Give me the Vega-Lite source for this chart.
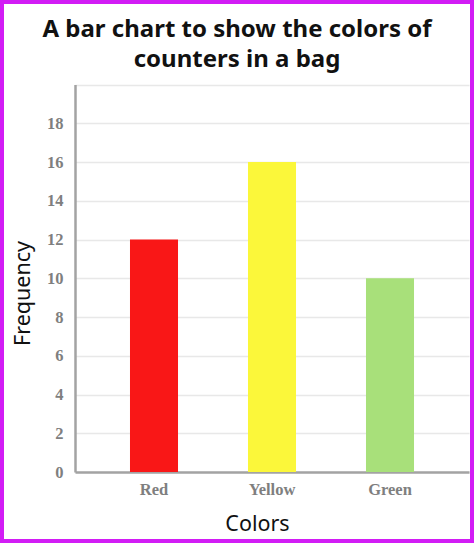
{
  "$schema": "https://vega.github.io/schema/vega-lite/v6.json",
  "width": 474,
  "height": 543,
  "padding": 0,
  "autosize": {"type": "none"},
  "background": "white",
  "title": {
    "text": ["A bar chart to show the colors of", "counters in a bag"],
    "font": "Noto Sans",
    "fontSize": 24,
    "fontWeight": "bold",
    "color": "#111111",
    "anchor": "middle",
    "frame": "group",
    "baseline": "alphabetic",
    "lineHeight": 30.5,
    "offset": -91
  },
  "data": {
    "values": [
      {"color": "Red", "frequency": 12},
      {"color": "Yellow", "frequency": 16},
      {"color": "Green", "frequency": 10}
    ]
  },
  "mark": {"type": "bar"},
  "encoding": {
    "x": {
      "field": "color",
      "type": "nominal",
      "sort": ["Red", "Yellow", "Green"],
      "scale": {"range": [75, 469], "paddingInner": 0.593, "paddingOuter": 0.466},
      "axis": {
        "title": "Colors",
        "orient": "bottom",
        "offset": -71,
        "labelAngle": 0,
        "labelFont": "Liberation Serif",
        "labelFontSize": 16.5,
        "labelFontWeight": "bold",
        "labelColor": "#7f7f7f",
        "labelPadding": 9,
        "ticks": false,
        "domainColor": "#a3a3a3",
        "domainWidth": 2.5,
        "grid": false,
        "titleFont": "Noto Sans",
        "titleFontSize": 21.5,
        "titleFontWeight": "normal",
        "titleColor": "#111111",
        "titleX": 257,
        "titleY": 58,
        "titleBaseline": "alphabetic",
        "titleAnchor": "middle",
        "titleAlign": "center"
      }
    },
    "y": {
      "field": "frequency",
      "type": "quantitative",
      "scale": {"domain": [0, 20], "nice": false, "range": [472, 84.5]},
      "axis": {
        "title": "Frequency",
        "orient": "left",
        "offset": -75,
        "values": [0, 2, 4, 6, 8, 10, 12, 14, 16, 18, 20],
        "labelExpr": "datum.value == 20 ? '' : datum.label",
        "labelFont": "Liberation Serif",
        "labelFontSize": 16.5,
        "labelFontWeight": "bold",
        "labelColor": "#7f7f7f",
        "labelPadding": 12,
        "ticks": false,
        "domainColor": "#a3a3a3",
        "domainWidth": 2.5,
        "grid": true,
        "gridColor": "#e8e8e8",
        "gridWidth": 1.5,
        "titleFont": "Noto Sans",
        "titleFontSize": 21.5,
        "titleFontWeight": "normal",
        "titleColor": "#111111",
        "titleX": -46,
        "titleY": 293,
        "titleAngle": -90,
        "titleBaseline": "alphabetic",
        "titleAlign": "center"
      }
    },
    "color": {
      "field": "color",
      "type": "nominal",
      "scale": {"domain": ["Red", "Yellow", "Green"], "range": ["#f91717", "#fbf73a", "#a8e07a"]},
      "legend": null
    }
  },
  "config": {
    "view": {"stroke": "#d21cf5", "strokeWidth": 8, "fill": "white"}
  }
}
